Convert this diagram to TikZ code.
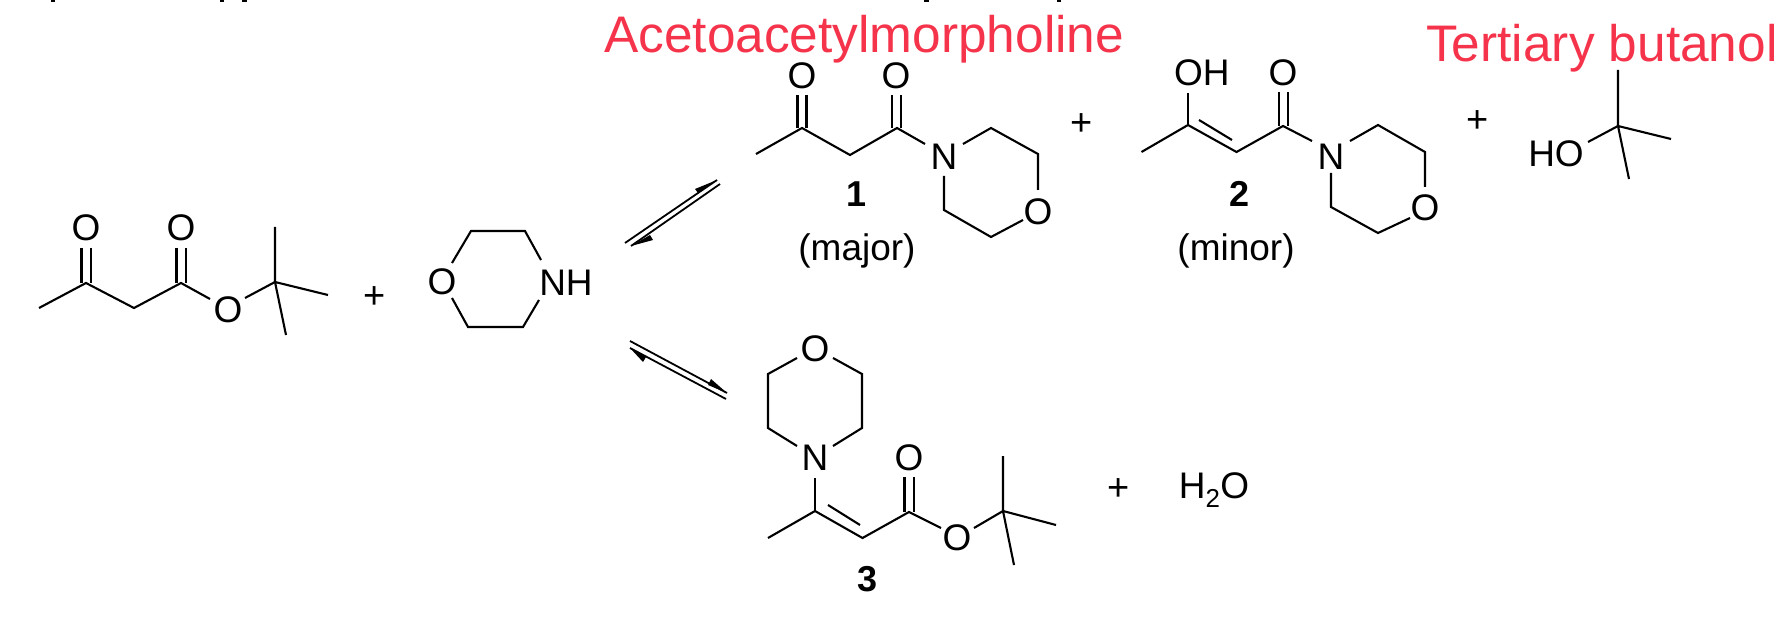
\documentclass[tikz,border=0pt]{standalone}
\usepackage{fontspec}
\setmainfont{Liberation Sans}
\definecolor{redlabel}{HTML}{F5344B}
\tikzset{
  x=1pt,y=-1pt,
  bond/.style={line width=2.1pt,black,line join=miter,line cap=butt},
  atom/.style={inner sep=0pt,font=\fontsize{37}{40}\selectfont},
  cmpd/.style={inner sep=0pt,font=\fontsize{36}{40}\selectfont\bfseries},
  note/.style={inner sep=0pt,font=\fontsize{37}{42}\selectfont},
  plussign/.style={inner sep=0pt,font=\fontsize{38}{42}\selectfont},
  title/.style={inner sep=0pt,anchor=base west,text=redlabel,font=\fontsize{51.4}{56}\selectfont},
  eqline/.style={line width=1.8pt,black},
  barb/.style={fill=black,draw=none},
  stub/.style={fill=black,draw=none}
}
\begin{document}
\begin{tikzpicture}
\useasboundingbox (0,0) rectangle (1781,644);
% clipped descenders of a text line above the picture
\fill[stub] (51,0) rectangle (55,2);
\fill[stub] (220,0) rectangle (224,2);
\fill[stub] (242,0) rectangle (247,2);
\fill[stub] (924,0) rectangle (929,2);
\fill[stub] (1057,0) rectangle (1061,2);
% reactant ester
\node[atom] (a1) at (86,228) {O};
\node[atom] (a2) at (181,228) {O};
\node[atom] (a3) at (228,310) {O};
\draw[bond] (39,308) -- (86,283) -- (134,308) -- (181,283) -- (210,299);
\draw[bond] (81.5,248) -- (81.5,283) (91,248) -- (91,283);
\draw[bond] (176.5,248) -- (176.5,283) (186,248) -- (186,283);
\draw[bond] (245,298) -- (275,282) (275,227) -- (275,282) -- (328,295) (275,282) -- (286,335);
\node[plussign] (p1) at (375,298) {+};
% morpholine
\node[atom] (m1) at (442,282) {O};
\node[atom] (m2) at (566,283) {NH};
\draw[bond] (452,263) -- (471,231) -- (525,231) -- (541,260);
\draw[bond] (452,298) -- (468,327) -- (523,327) -- (539,300);
% equilibrium arrows
\draw[eqline] (625,243) -- (717,180);
\draw[eqline] (631,246) -- (720,184);
\fill[barb] (717,180) -- (695,189) -- (698,193) -- cycle;
\fill[barb] (631,246) -- (653,240) -- (650,235) -- cycle;
\draw[eqline] (630,341) -- (727,393);
\draw[eqline] (630,348) -- (726,399);
\fill[barb] (727,393) -- (711,379) -- (708,385) -- cycle;
\fill[barb] (630,348) -- (643,362) -- (646,357) -- cycle;
% compound 1
\node[title] (t1) at (604,53) {Acetoacetylmorpholine};
\node[atom] (b1) at (802,76) {O};
\node[atom] (b2) at (896,76) {O};
\node[atom] (b3) at (944,157) {N};
\node[atom] (b4) at (1038,212) {O};
\draw[bond] (756,154) -- (802,128) -- (850,155) -- (897,128) -- (925,144);
\draw[bond] (797.5,95) -- (797.5,128) (806.5,95) -- (806.5,128);
\draw[bond] (892,95) -- (892,128) (901,95) -- (901,128);
\draw[bond] (963,144) -- (991,128) -- (1038,154) -- (1038,190);
\draw[bond] (1023,220) -- (991,237) -- (944,210) -- (944,176);
\node[cmpd] (c1) at (857,194) {1};
\node[note] (n1) at (857,251) {(major)};
\node[plussign] (p2) at (1082,125) {+};
% compound 2
\node[atom,anchor=west] (d1) at (1174,73) {OH};
\node[atom] (d2) at (1283,73) {O};
\node[atom] (d3) at (1331,157) {N};
\node[atom] (d4) at (1425,208) {O};
\draw[bond] (1141.5,152) -- (1188,125) -- (1236.5,152) -- (1283,126) -- (1312,141);
\draw[bond] (1188,93) -- (1188,125);
\draw[bond] (1199,120) -- (1232,140);
\draw[bond] (1279,92) -- (1279,126) (1288,92) -- (1288,126);
\draw[bond] (1350,141) -- (1378,125) -- (1425,152) -- (1425,187);
\draw[bond] (1410,218) -- (1378,233) -- (1331,207) -- (1331,173);
\node[cmpd] (c2) at (1239,194) {2};
\node[note] (n2) at (1236,251) {(minor)};
\node[plussign] (p3) at (1478,122) {+};
% tert-butanol
\node[title] (t2) at (1426,62) {Tertiary butanol};
\node[atom] (e1) at (1556,154) {HO};
\draw[bond] (1588,142) -- (1618,126) (1618,70) -- (1618,126) -- (1671,139) (1618,126) -- (1629,179);
% compound 3
\node[atom] (f1) at (815,349) {O};
\node[atom] (f2) at (815,458) {N};
\node[atom] (f3) at (909,458) {O};
\node[atom] (f4) at (957,538) {O};
\draw[bond] (797,358) -- (768,374) -- (768,428) -- (797,446);
\draw[bond] (833,358) -- (862,374) -- (862,428) -- (833,446);
\draw[bond] (815,478) -- (815,511);
\draw[bond] (768,538) -- (815,511) -- (862.5,538) -- (909,512) -- (941,528);
\draw[bond] (828,505) -- (860,525);
\draw[bond] (904.5,477) -- (904.5,512) (914,477) -- (914,512);
\draw[bond] (974,528) -- (1003,511) (1003,456) -- (1003,511) -- (1056,525) (1003,511) -- (1014,565);
\node[cmpd] (c3) at (868,579) {3};
\node[plussign] (p4) at (1119,490) {+};
\node[atom] (w) at (1214,490) {H\textsubscript{2}O};
\end{tikzpicture}
\end{document}
